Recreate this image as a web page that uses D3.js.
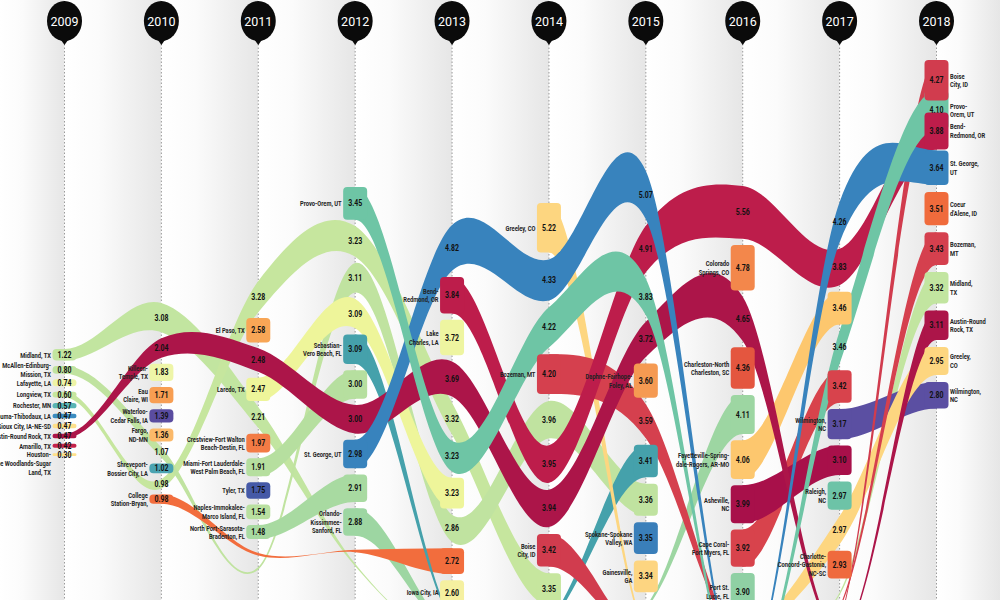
<!DOCTYPE html>
<html><head><meta charset="utf-8">
<script src="https://cdn.jsdelivr.net/npm/d3@7"></script>
<style>body{margin:0;background:#fff}svg{display:block}</style>
</head><body><svg id="c" width="1000" height="600"></svg>
<script>
// ---------------- DATA ----------------
const years = [2009,2010,2011,2012,2013,2014,2015,2016,2017,2018];

const rank2009 = [["midland",1.22],["mcallen",0.80],["lafayette",0.74],["longview",0.60],["rochester",0.57],["houma",0.47],["siouxcity",0.47],["austin",0.47],["amarillo",0.42],["houston",0.30]];
const rank2010 = [["midland",3.08],["austin",2.04],["killeen",1.83],["eauclaire",1.71],["waterloo",1.39],["fargo",1.36],["mcallen",1.07],["shreveport",1.02],["longview",0.98],["collegestation",0.98]];
const rank2011 = [["longview",3.28],["elpaso",2.58],["austin",2.48],["laredo",2.47],["midland",2.21],["crestview",1.97],["miami",1.91],["tyler",1.75],["naples",1.54],["northport",1.48]];
const rank2012 = [["provo",3.45],["longview",3.23],["mcallen",3.11],["laredo",3.09],["sebastian",3.09],["miami",3.00],["austin",3.00],["stgeorge",2.98],["northport",2.91],["orlando",2.88]];
const rank2013 = [["stgeorge",4.82],["bend",3.84],["lakecharles",3.72],["austin",3.69],["longview",3.32],["provo",3.23],["laredo",3.23],["mcallen",2.86],["collegestation",2.72],["iowacity",2.60]];
const rank2014 = [["greeley",5.22],["stgeorge",4.33],["provo",4.22],["bozeman",4.20],["mcallen",3.96],["bend",3.95],["austin",3.94],["boise",3.42],["longview",3.35]];
const rank2015 = [["stgeorge",5.07],["bend",4.91],["provo",3.83],["austin",3.72],["daphne",3.60],["bozeman",3.59],["sebastian",3.41],["mcallen",3.36],["spokane",3.35],["gainesville",3.34]];
const rank2016 = [["bend",5.56],["coloradosprings",4.78],["austin",4.65],["charleston",4.36],["orlando",4.11],["fayetteville",4.06],["asheville",3.99],["capecoral",3.92],["portstlucie",3.90]];
const rank2017 = [["stgeorge",4.26],["bend",3.83],["fayetteville",3.46],["provo",3.46],["capecoral",3.42],["wilmington",3.17],["asheville",3.10],["raleigh",2.97],["greeley",2.97],["charlotte",2.93]];
const rank2018 = [["boise",4.27],["provo",4.10],["bend",3.88],["stgeorge",3.64],["coeur",3.51],["bozeman",3.43],["midland",3.32],["austin",3.11],["greeley",2.95],["wilmington",2.80]];

const finalLabels = ["Boise|City, ID","Provo-|Orem, UT","Bend-|Redmond, OR","St. George,|UT","Coeur|d'Alene, ID","Bozeman,|MT","Midland,|TX","Austin-Round|Rock, TX","Greeley,|CO","Wilmington,|NC"];

const metroKeys = ["lafayette","rochester","houma","siouxcity","amarillo","houston","killeen","eauclaire","waterloo","fargo","shreveport","elpaso","crestview","tyler","naples","lakecharles","iowacity","daphne","spokane","gainesville","coloradosprings","charleston","portstlucie","raleigh","charlotte","coeur","midland","longview","mcallen","miami","northport","orlando","laredo","fayetteville","collegestation","capecoral","asheville","wilmington","sebastian","greeley","bozeman","boise","austin","bend","stgeorge","provo"];
const metroLabels = ["Lafayette, LA","Rochester, MN","Houma-Thibodaux, LA","Sioux City, IA-NE-SD","Amarillo, TX","Houston-|The Woodlands-Sugar|Land, TX","Killeen-|Temple, TX","Eau|Claire, WI","Waterloo-|Cedar Falls, IA","Fargo,|ND-MN","Shreveport-|Bossier City, LA","El Paso, TX","Crestview-Fort Walton|Beach-Destin, FL","Tyler, TX","Naples-Immokalee-|Marco Island, FL","Lake|Charles, LA","Iowa City, IA","Daphne-Fairhope-|Foley, AL","Spokane-Spokane|Valley, WA","Gainesville,|GA","Colorado|Springs, CO","Charleston-North|Charleston, SC","Port St.|Lucie, FL","Raleigh,|NC","Charlotte-|Concord-Gastonia,|NC-SC","Coeur|d'Alene, ID","Midland, TX","Longview, TX","McAllen-Edinburg-|Mission, TX","Miami-Fort Lauderdale-|West Palm Beach, FL","North Port-Sarasota-|Bradenton, FL","Orlando-|Kissimmee-|Sanford, FL","Laredo, TX","Fayetteville-Spring-|dale-Rogers, AR-MO","College|Station-Bryan,","Cape Coral-|Fort Myers, FL","Asheville,|NC","Wilmington,|NC","Sebastian-|Vero Beach, FL","Greeley, CO","Bozeman, MT","Boise|City, ID","Austin-Round Rock, TX","Bend-|Redmond, OR","St. George, UT","Provo-Orem, UT"];
const metroColors = ["#eef4a6","#5ab4b4","#3b8cc0","#fde08b","#c4234b","#fee08b","#eef5a8","#f89e52","#5a4ca0","#fbb96a","#4aa3b2","#f8a656","#f37b45","#4559a7","#b9e0a0","#eef5a0","#f5f0a0","#f59a52","#3a7fba","#fdd581","#f3874b","#e4563f","#8fd0a4","#6dc3a7","#ef6a3e","#f06b3c","#c2e5a0","#c6e69e","#c0e3a0","#b6df9f","#a8daa1","#9dd6a2","#eef59a","#fdc76e","#f26d3d","#d8434c","#a8104a","#5b4fa2","#45a1ab","#fdd680","#d5404e","#d13c4e","#ac1549","#bd1d4b","#3883bd","#6ec5a5"];

// ---------------- LAYOUT ----------------
const rankings = [rank2009,rank2010,rank2011,rank2012,rank2013,rank2014,rank2015,rank2016,rank2017,rank2018];
const colTop = [349,303,281,187,225,203,171,186,202,60];
const colGap = [5.5,6,5.8,6.3,6.3,6.8,6.5,6.3,6.4,7];
const lastColGaps = [-10,-17,1];
const boxHalf = 12, outThick = 2.5;

const svg = d3.select("#c");
const W = 1000, H = 600;
const x = d3.scalePoint().domain(years).range([64.5, 936.5]);
const th = d3.scaleLinear().domain([0,1]).range([0,9.5]);
const fmt = d3.format(".2f");
const colorOf = k => metroColors[metroKeys.indexOf(k)];
const labelOf = k => metroLabels[metroKeys.indexOf(k)];

// stacking
const pos = new Map(); metroKeys.forEach(k=>pos.set(k,new Map()));
const bottoms = [];
rankings.forEach((list,ci)=>{
  let y = colTop[ci];
  list.forEach(([k,v],i)=>{
    if(i>0) y += (ci===years.length-1 && i-1<lastColGaps.length) ? lastColGaps[i-1] : colGap[ci];
    const h = th(v);
    pos.get(k).set(ci,{y0:y,y1:y+h,v,i});
    y += h;
  });
  bottoms[ci] = y;
});
const span = new Map();
metroKeys.forEach(k=>{
  const cs = [...pos.get(k).keys()].sort((a,b)=>a-b);
  if(cs.length) span.set(k,[cs[0],cs[cs.length-1]]);
});
const outSlots = years.map(()=>[]);
metroKeys.forEach(k=>{
  const s = span.get(k); if(!s) return;
  for(let ci=s[0]+1;ci<s[1];ci++) if(!pos.get(k).has(ci)) outSlots[ci].push(k);
});
outSlots.forEach(a=>a.sort((p,q)=>span.get(p)[1]-span.get(q)[1]));
function outY(k,ci){ return bottoms[ci] + 14 + outSlots[ci].indexOf(k)*14; }

// ---------------- DRAW ----------------
const defs = svg.append("defs");
const g = defs.append("linearGradient").attr("id","bg").attr("x1","0").attr("x2","1").attr("y1","0").attr("y2","0");
g.append("stop").attr("offset","0").attr("stop-color","#ffffff");
g.append("stop").attr("offset","0.35").attr("stop-color","#fbfbfb");
g.append("stop").attr("offset","1").attr("stop-color","#e6e6e6");
const edges = [0, ...years.map(y=>x(y)), W];
svg.append("g").selectAll("rect").data(d3.pairs(edges)).join("rect")
  .attr("x",d=>d[0]).attr("y",0).attr("width",d=>d[1]-d[0]).attr("height",H).attr("fill","url(#bg)");

svg.append("g").selectAll("line").data(years).join("line")
  .attr("x1",d=>x(d)).attr("x2",d=>x(d)).attr("y1",44).attr("y2",H)
  .attr("stroke","#9a9a9a").attr("stroke-width",1).attr("stroke-dasharray","1.5,2");

function ribbon(pts){
  const n = pts.length, p = d3.path();
  const X = pts.map(d=>d.x), T = pts.map(d=>d.t), B = pts.map(d=>d.b);
  const tan = (a,i)=> (i===0||i===n-1)?0:(a[i+1]-a[i-1])/2;
  p.moveTo(X[0],T[0]);
  for(let i=0;i<n-1;i++){const h=X[i+1]-X[i];
    p.bezierCurveTo(X[i]+h/3,T[i]+tan(T,i)/3,X[i+1]-h/3,T[i+1]-tan(T,i+1)/3,X[i+1],T[i+1]);}
  p.lineTo(X[n-1],B[n-1]);
  for(let i=n-1;i>0;i--){const h=X[i]-X[i-1];
    p.bezierCurveTo(X[i]-h/3,B[i]-tan(B,i)/3,X[i-1]+h/3,B[i-1]+tan(B,i-1)/3,X[i-1],B[i-1]);}
  p.closePath();
  return p.toString();
}

const ribbons = [];
metroKeys.forEach(k=>{
  const s = span.get(k); if(!s || s[0]===s[1]) return;
  const pts = [];
  for(let ci=s[0];ci<=s[1];ci++){
    const e = pos.get(k).get(ci);
    if(e) pts.push({x:x(years[ci]),t:e.y0,b:e.y1});
    else { const yo = outY(k,ci); pts.push({x:x(years[ci]),t:yo,b:yo+outThick}); }
  }
  ribbons.push({k,d:ribbon(pts)});
});
svg.append("g").selectAll("path").data(ribbons).join("path")
  .attr("d",d=>d.d).attr("fill",d=>colorOf(d.k));

const boxes = [];
[...metroKeys].reverse().forEach(k=>{
  const s = span.get(k); if(!s) return;
  new Set(s).forEach(ci=>{const e=pos.get(k).get(ci); boxes.push({k,ci,...e});});
});
svg.append("g").selectAll("rect").data(boxes).join("rect")
  .attr("x",d=>x(years[d.ci])-boxHalf).attr("y",d=>d.y0)
  .attr("width",boxHalf*2).attr("height",d=>d.y1-d.y0)
  .attr("rx",d=>Math.min(4,(d.y1-d.y0)/2)).attr("fill",d=>colorOf(d.k));

const vals = [];
rankings.forEach((list,ci)=>list.forEach(([k,v])=>{const e=pos.get(k).get(ci); vals.push({ci,v,y:(e.y0+e.y1)/2});}));
svg.append("g").selectAll("text").data(vals).join("text")
  .attr("transform",d=>`translate(${x(years[d.ci])},${d.y}) scale(0.82,1)`)
  .attr("text-anchor","middle").attr("dy","0.35em")
  .attr("font-family","Roboto, 'Liberation Sans', sans-serif").attr("font-weight",700)
  .attr("font-size",8.5).attr("fill","#111").text(d=>fmt(d.v));

const lh = 8.6;
const names = [];
rankings.forEach((list,ci)=>list.forEach(([k],i)=>{
  const e = pos.get(k).get(ci), last = ci===years.length-1;
  const c = (e.y0+e.y1)/2, hgt = e.y1-e.y0;
  if(last) names.push({ci,y:c,lines:finalLabels[i].split("|"),right:true,hang:false});
  else if(span.get(k)[0]===ci){
    const lines = labelOf(k).split("|");
    names.push({ci,y:c,lines,right:false,hang:lines.length>2 && hgt<lh});
  }
}));
const ng = svg.append("g").attr("font-family","Roboto, 'Liberation Sans', sans-serif").attr("font-weight",700).attr("font-size",8).attr("fill","#222");
names.forEach(n=>{
  n.lines.forEach((ln,j)=>{
    const ty = n.hang ? n.y + j*lh : n.y + (j-(n.lines.length-1)/2)*lh;
    const tx = n.right ? x(years[n.ci])+boxHalf+1.5 : x(years[n.ci])-boxHalf-1.5;
    ng.append("text").attr("transform",`translate(${tx},${ty}) scale(0.72,1)`)
      .attr("dy","0.35em").attr("text-anchor",n.right?"start":"end").text(ln);
  });
});

const hb = svg.append("g").selectAll("g").data(years).join("g").attr("transform",d=>`translate(${x(d)},0)`);
hb.append("ellipse").attr("cx",0).attr("cy",21).attr("rx",17.5).attr("ry",20).attr("fill","#0b0b0b");
hb.append("path").attr("d","M-7,35 L0,45 L7,35 Z").attr("fill","#0b0b0b");
hb.append("text").attr("x",0).attr("y",21).attr("dy","0.36em").attr("text-anchor","middle")
  .attr("font-family","Roboto, sans-serif").attr("font-size",12.5).attr("fill","#fff").text(d=>d);
</script></body></html>
